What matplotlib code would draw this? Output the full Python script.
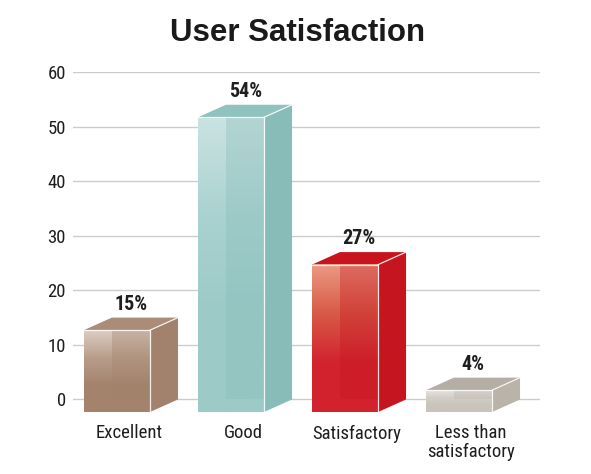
import numpy as np
import matplotlib

matplotlib.use("Agg")

import matplotlib.pyplot as plt
from matplotlib.colors import LinearSegmentedColormap
from matplotlib.patches import Polygon, Rectangle

categories = ["Excellent", "Good", "Satisfactory", "Less than\nsatisfactory"]
values = [15, 54, 27, 4]
value_labels = ["15%", "54%", "27%", "4%"]
y_ticks = [0, 10, 20, 30, 40, 50, 60]

# front face gradient (top -> bottom), side face, top face
front_colors = [
    ["#ddcdc2", "#b89e8c", "#a4836d", "#a4836d"],
    ["#cbe3e2", "#a9d2d0", "#9ccac7", "#9ccac7"],
    ["#eb9a84", "#d85a47", "#d2222e", "#d2222e"],
    ["#e6e3de", "#d3cfc8", "#c9c4bc", "#c9c4bc"],
]
side_colors = ["#a3826d", "#87bcb8", "#c5161f", "#b9b3a9"]
top_colors = ["#aa8c78", "#90c3bf", "#c9141e", "#b4aea4"]

BAR_WIDTH = 0.58
FRONT_SHIFT = 0.105
DEPTH_X = 0.245
DEPTH_Y = 2.3

plt.rcParams["font.family"] = ["Roboto Condensed", "Liberation Sans Narrow",
                               "Liberation Sans", "DejaVu Sans"]

fig = plt.figure(figsize=(5.91, 4.74), dpi=100)
ax = fig.add_axes([73 / 591, 62 / 474, 467 / 591, 340 / 474])

for i, (value, label) in enumerate(zip(values, value_labels)):
    x0 = i - FRONT_SHIFT - BAR_WIDTH / 2
    x1 = x0 + BAR_WIDTH
    bottom = -DEPTH_Y
    top = value - DEPTH_Y

    side = Polygon(
        [(x1, bottom), (x1 + DEPTH_X, 0), (x1 + DEPTH_X, value), (x1, top)],
        closed=True, facecolor=side_colors[i], edgecolor="none", zorder=3,
    )
    ax.add_patch(side)
    lid = Polygon(
        [(x0, top), (x0 + DEPTH_X, value), (x1 + DEPTH_X, value), (x1, top)],
        closed=True, facecolor=top_colors[i], edgecolor="none", zorder=3,
    )
    ax.add_patch(lid)

    cmap = LinearSegmentedColormap.from_list(f"bar{i}", front_colors[i])
    grad = np.linspace(0, 1, 256).reshape(-1, 1)
    ax.imshow(grad, extent=(x0, x1, bottom, top), aspect="auto", cmap=cmap,
              origin="upper", zorder=4, interpolation="bilinear")

    # back wall seen through the front face
    ax.add_patch(Rectangle((x0 + DEPTH_X, 0), BAR_WIDTH - DEPTH_X, top,
                           facecolor=side_colors[i], alpha=0.35,
                           edgecolor="none", zorder=5))

    # light edges
    ax.plot([x0, x1, x1], [top, top, bottom], color="white", lw=0.9,
            alpha=0.85, zorder=6, solid_joinstyle="miter")
    ax.plot([x1, x1 + DEPTH_X], [top, value], color="white", lw=0.9,
            alpha=0.85, zorder=6)

    ax.text(i + 0.02, value + 2.4, label, ha="center", va="center",
            fontsize=14.5, fontweight="bold", color="#1e1e1e", zorder=7)

ax.set_xlim(-0.491, 3.605)
ax.set_ylim(-DEPTH_Y, 60)
ax.set_yticks(y_ticks)
ax.set_xticks(range(len(categories)))
ax.set_xticklabels(categories, fontsize=13.5, color="#1e1e1e", linespacing=1.0)
ax.tick_params(axis="x", length=0, pad=9)
ax.tick_params(axis="y", length=0, pad=5, labelsize=13.5, labelcolor="#1e1e1e")
ax.yaxis.grid(True, color="#cccccc", lw=1)
ax.set_axisbelow(True)
for spine in ax.spines.values():
    spine.set_visible(False)

fig.text(0.504, 1 - 33 / 474, "User Satisfaction", ha="center", va="center",
         fontsize=22.5, fontweight="bold", color="#1a1a1a",
         family=["Liberation Sans", "DejaVu Sans"])

fig.savefig("out.png", dpi=100)
